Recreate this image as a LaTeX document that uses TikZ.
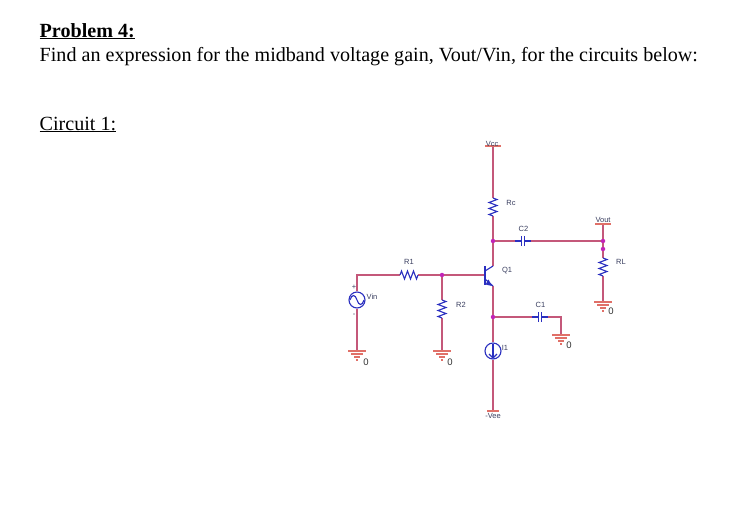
\documentclass[tikz,border=0pt]{standalone}
\usepackage{fontspec}
\setmainfont{Liberation Serif}
\newfontfamily\lblfont{Liberation Sans}
\definecolor{wirec}{HTML}{C4587A}
\definecolor{symc}{HTML}{2A2FC0}
\definecolor{dotc}{HTML}{C224B8}
\definecolor{lblc}{HTML}{3A3F60}
\definecolor{gndc}{HTML}{E07068}
\tikzset{
  wire/.style={draw=wirec,line width=1.2pt},
  sym/.style={draw=symc,line width=1.1pt},
  lbl/.style={inner sep=0pt,text=lblc,font=\lblfont\fontsize{7.5}{8}\selectfont},
  gndlbl/.style={inner sep=0pt,text=black!80,font=\lblfont\fontsize{9.5}{10}\selectfont},
  head/.style={anchor=base west,inner sep=0pt,font=\fontsize{20.1}{24}\selectfont},
  dotj/.style={circle,fill=dotc,inner sep=0pt,minimum size=4.5pt},
  bar/.style={draw=gndc,line width=1.2pt},
  pics/resv/.style={code={\draw[sym] plot coordinates {(0,0)(4,1.5)(-4,4.5)(4,7.5)(-4,10.5)(4,13.5)(-4,16.5)(0,18)};}},
  pics/resh/.style={code={\draw[sym] plot coordinates {(0,0)(1.5,-4)(4.5,4)(7.5,-4)(10.5,4)(13.5,-4)(16.5,4)(18,0)};}},
  pics/caph/.style={code={\draw[sym] (-8,0)--(-1.5,0) (-1.5,-5)--(-1.5,5) (1.5,-5)--(1.5,5) (1.5,0)--(8,0);}},
  pics/gndsym/.style={code={\draw[bar] (-9,0)--(9,0) (-6,3)--(6,3) (-3,6)--(3,6) (-1,9)--(1,9);}},
}
\begin{document}
\begin{tikzpicture}[x=1pt,y=-1pt]
\useasboundingbox (0,0) rectangle (752,520);
\fill[white] (0,0) rectangle (752,520);
% heading
\node[head,font=\fontsize{20.1}{24}\selectfont\bfseries] (title) at (39.5,37) {\underline{Problem 4:}};
\node[head] (task) at (39.5,61) {Find an expression for the midband voltage gain, Vout/Vin, for the circuits below:};
\node[head] (circ) at (39.5,130) {\underline{Circuit 1:}};
% terminals
\coordinate (vcc) at (493,146);
\coordinate (rct) at (493,198);
\coordinate (rcb) at (493,216);
\node[dotj] (jc) at (493,241) {};
\coordinate (c2l) at (515,241);
\coordinate (c2r) at (531,241);
\node[dotj] (jo) at (603,241) {};
\node[dotj] (jo2) at (603,249) {};
\coordinate (vout) at (603,224);
\coordinate (rlt) at (603,258);
\coordinate (rlb) at (603,276);
\coordinate (grl) at (603,302);
\coordinate (col) at (493,266);
\coordinate (colb) at (485,271);
\coordinate (emb) at (485,279);
\coordinate (em) at (493,286);
\coordinate (base) at (485,275);
\node[dotj] (je) at (493,317) {};
\coordinate (c1l) at (532,317);
\coordinate (c1r) at (548,317);
\coordinate (c1c) at (561,317);
\coordinate (gc1) at (561,335);
\node[circle,draw=symc,line width=1.1pt,minimum size=16pt,inner sep=0pt] (i1) at (493,351) {};
\coordinate (vee) at (493,411);
\node[circle,draw=symc,line width=1.1pt,minimum size=16pt,inner sep=0pt] (vin) at (357,300) {};
\coordinate (cvin) at (357,275);
\coordinate (r1l) at (400,275);
\coordinate (r1r) at (418,275);
\node[dotj] (jb) at (442,275) {};
\coordinate (r2t) at (442,300);
\coordinate (r2b) at (442,318);
\coordinate (g2) at (442,351);
\coordinate (g1) at (357,351);
% wires
\draw[wire] (vcc)--(rct) (rcb)--(jc) (jc)--(c2l) (c2r)--(jo) (vout)--(jo) (jo)--(jo2) (jo2)--(rlt) (rlb)--(grl);
\draw[wire] (jc)--(col) (em)--(je) (je)--(c1l) (c1r)--(c1c)--(gc1) (je)--(i1) (i1)--(vee);
\draw[wire] (vin)--(cvin)--(r1l) (r1r)--(jb) (jb)--(base) (jb)--(r2t) (r2b)--(g2) (vin)--(g1);
% transistor
\draw[sym,line width=1.4pt] (485,266)--(485,285);
\draw[sym] (colb)--(col);
\draw[sym] (emb)--(em);
\fill[symc] (492,286)--(485.5,284.5)--(488.5,279.5)--cycle;
% parts
\pic at (rct) {resv};
\pic at (rlt) {resv};
\pic at (r2t) {resv};
\pic at (r1l) {resh};
\pic at (523,241) {caph};
\pic at (540,317) {caph};
\pic at (g1) {gndsym};
\pic at (g2) {gndsym};
\pic at (gc1) {gndsym};
\pic at (grl) {gndsym};
\draw[bar] (485,146)--(501,146) (595,224)--(611,224) (487,411)--(499,411);
% sources
\draw[sym] (350,300) .. controls (352,294) and (355,294) .. (357,300) .. controls (359,306) and (362,306) .. (364,300);
\draw[sym] (493,344)--(493,358);
\draw[sym] (489,354)--(493,358)--(497,354);
% labels
\node[lbl] (lvcc) at (492,144) {Vcc};
\node[lbl] (lrc) at (511,203) {Rc};
\node[lbl] (lc2) at (523.5,229) {C2};
\node[lbl] (lvout) at (603,220) {Vout};
\node[lbl] (lrl) at (621,262) {RL};
\node[lbl] (lr1) at (409,262) {R1};
\node[lbl] (lq1) at (507,271) {Q1};
\node[lbl] (lc1) at (540.5,305) {C1};
\node[lbl] (lr2) at (461,305) {R2};
\node[lbl] (li1) at (505,348) {I1};
\node[lbl] (lvee) at (493,416) {-Vee};
\node[lbl] (lvin) at (372,297) {Vin};
\node[lbl] (lp) at (354,287) {+};
\node[lbl] (lm) at (354,315) {-};
\node[gndlbl] (o1) at (366,362) {0};
\node[gndlbl] (o2) at (450,362) {0};
\node[gndlbl] (o3) at (569,345) {0};
\node[gndlbl] (o4) at (611,311) {0};
\end{tikzpicture}
\end{document}
